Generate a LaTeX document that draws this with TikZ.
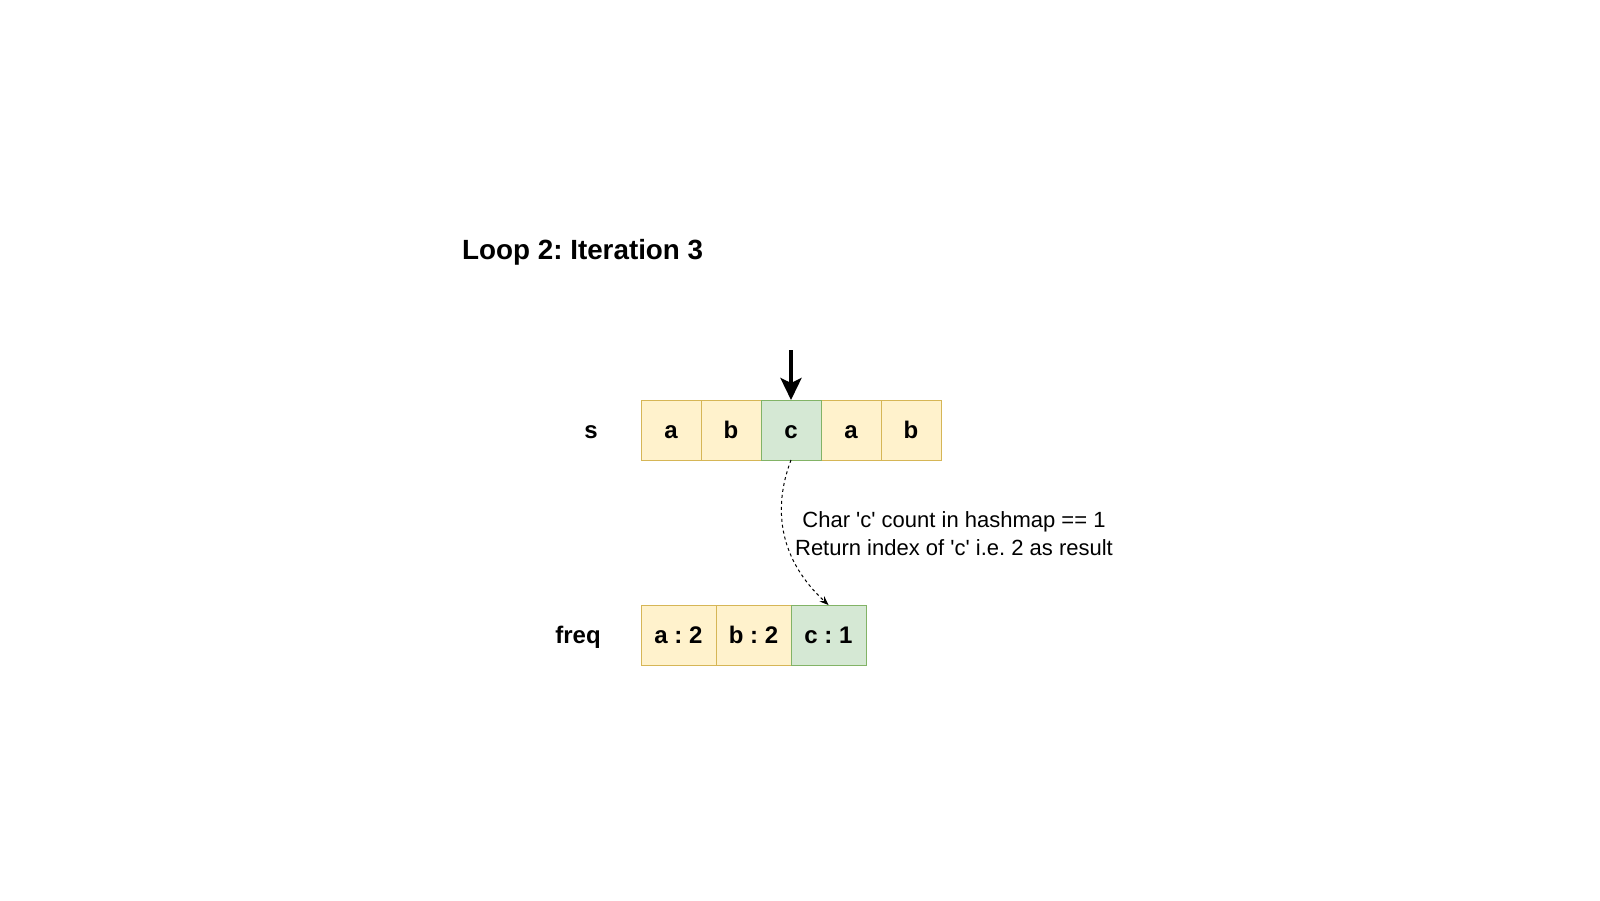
\documentclass[tikz,border=0pt]{standalone}
\usepackage{fontspec}
\setmainfont{Liberation Sans}
\usetikzlibrary{arrows.meta}
\definecolor{yfill}{HTML}{FFF2CC}
\definecolor{ydraw}{HTML}{D6B656}
\definecolor{gfill}{HTML}{D5E8D4}
\definecolor{gdraw}{HTML}{82B366}
\frenchspacing
\newcommand{\sq}{\textquotesingle}
\begin{document}
\begin{tikzpicture}[x=1pt,y=-1pt,
  ycell/.style={draw=ydraw, fill=yfill, line width=1pt, minimum width=60pt, minimum height=60pt,
    inner sep=0pt, outer sep=0pt, text height=16.6pt, text depth=0pt,
    font=\fontsize{24}{28}\selectfont\bfseries},
  gcell/.style={ycell, draw=gdraw, fill=gfill},
  wide/.style={minimum width=75pt},
  rowlabel/.style={inner sep=0pt, font=\fontsize{24}{28}\selectfont\bfseries},
  pointer/.style={line width=4pt, -{Stealth[length=22pt, width=21pt, inset=5pt]}},
  flow/.style={line width=1pt, dash pattern=on 3pt off 3pt, -{Stealth[length=9pt, width=7pt]}},
  note/.style={inner sep=0pt, align=center, font=\fontsize{22}{28}\selectfont}
]
\useasboundingbox (0,0) rectangle (1600,900);

\node[anchor=base west, inner sep=0pt, font=\fontsize{27.8}{32}\selectfont\bfseries] (title) at (462,259) {Loop 2: Iteration 3};

% string s
\node[rowlabel, anchor=base] (slab) at (591,438) {s};
\node[ycell] (s0) at (671,430) {a};
\node[ycell] (s1) at (731,430) {b};
\node[ycell] (s3) at (851,430) {a};
\node[ycell] (s4) at (911,430) {b};
\node[gcell] (s2) at (791,430) {c};

% freq map
\node[rowlabel, anchor=base] (flab) at (578,643) {freq};
\node[ycell, wide] (f0) at (678.5,635) {a : 2};
\node[ycell, wide] (f1) at (753.5,635) {b : 2};
\node[gcell, wide] (f2) at (828.5,635) {c : 1};

% pointer arrow
\coordinate (ptop) at (791,350);
\draw[pointer] (ptop) -- (s2.north);

% dashed curve
\draw[flow] (s2.south) .. controls (772,510) and (780,560) .. (f2.north);

\node[note] (msg) at (954,534) {Char \sq c\sq{} count in hashmap == 1\\Return index of \sq c\sq{} i.e. 2 as result};
\end{tikzpicture}
\end{document}
